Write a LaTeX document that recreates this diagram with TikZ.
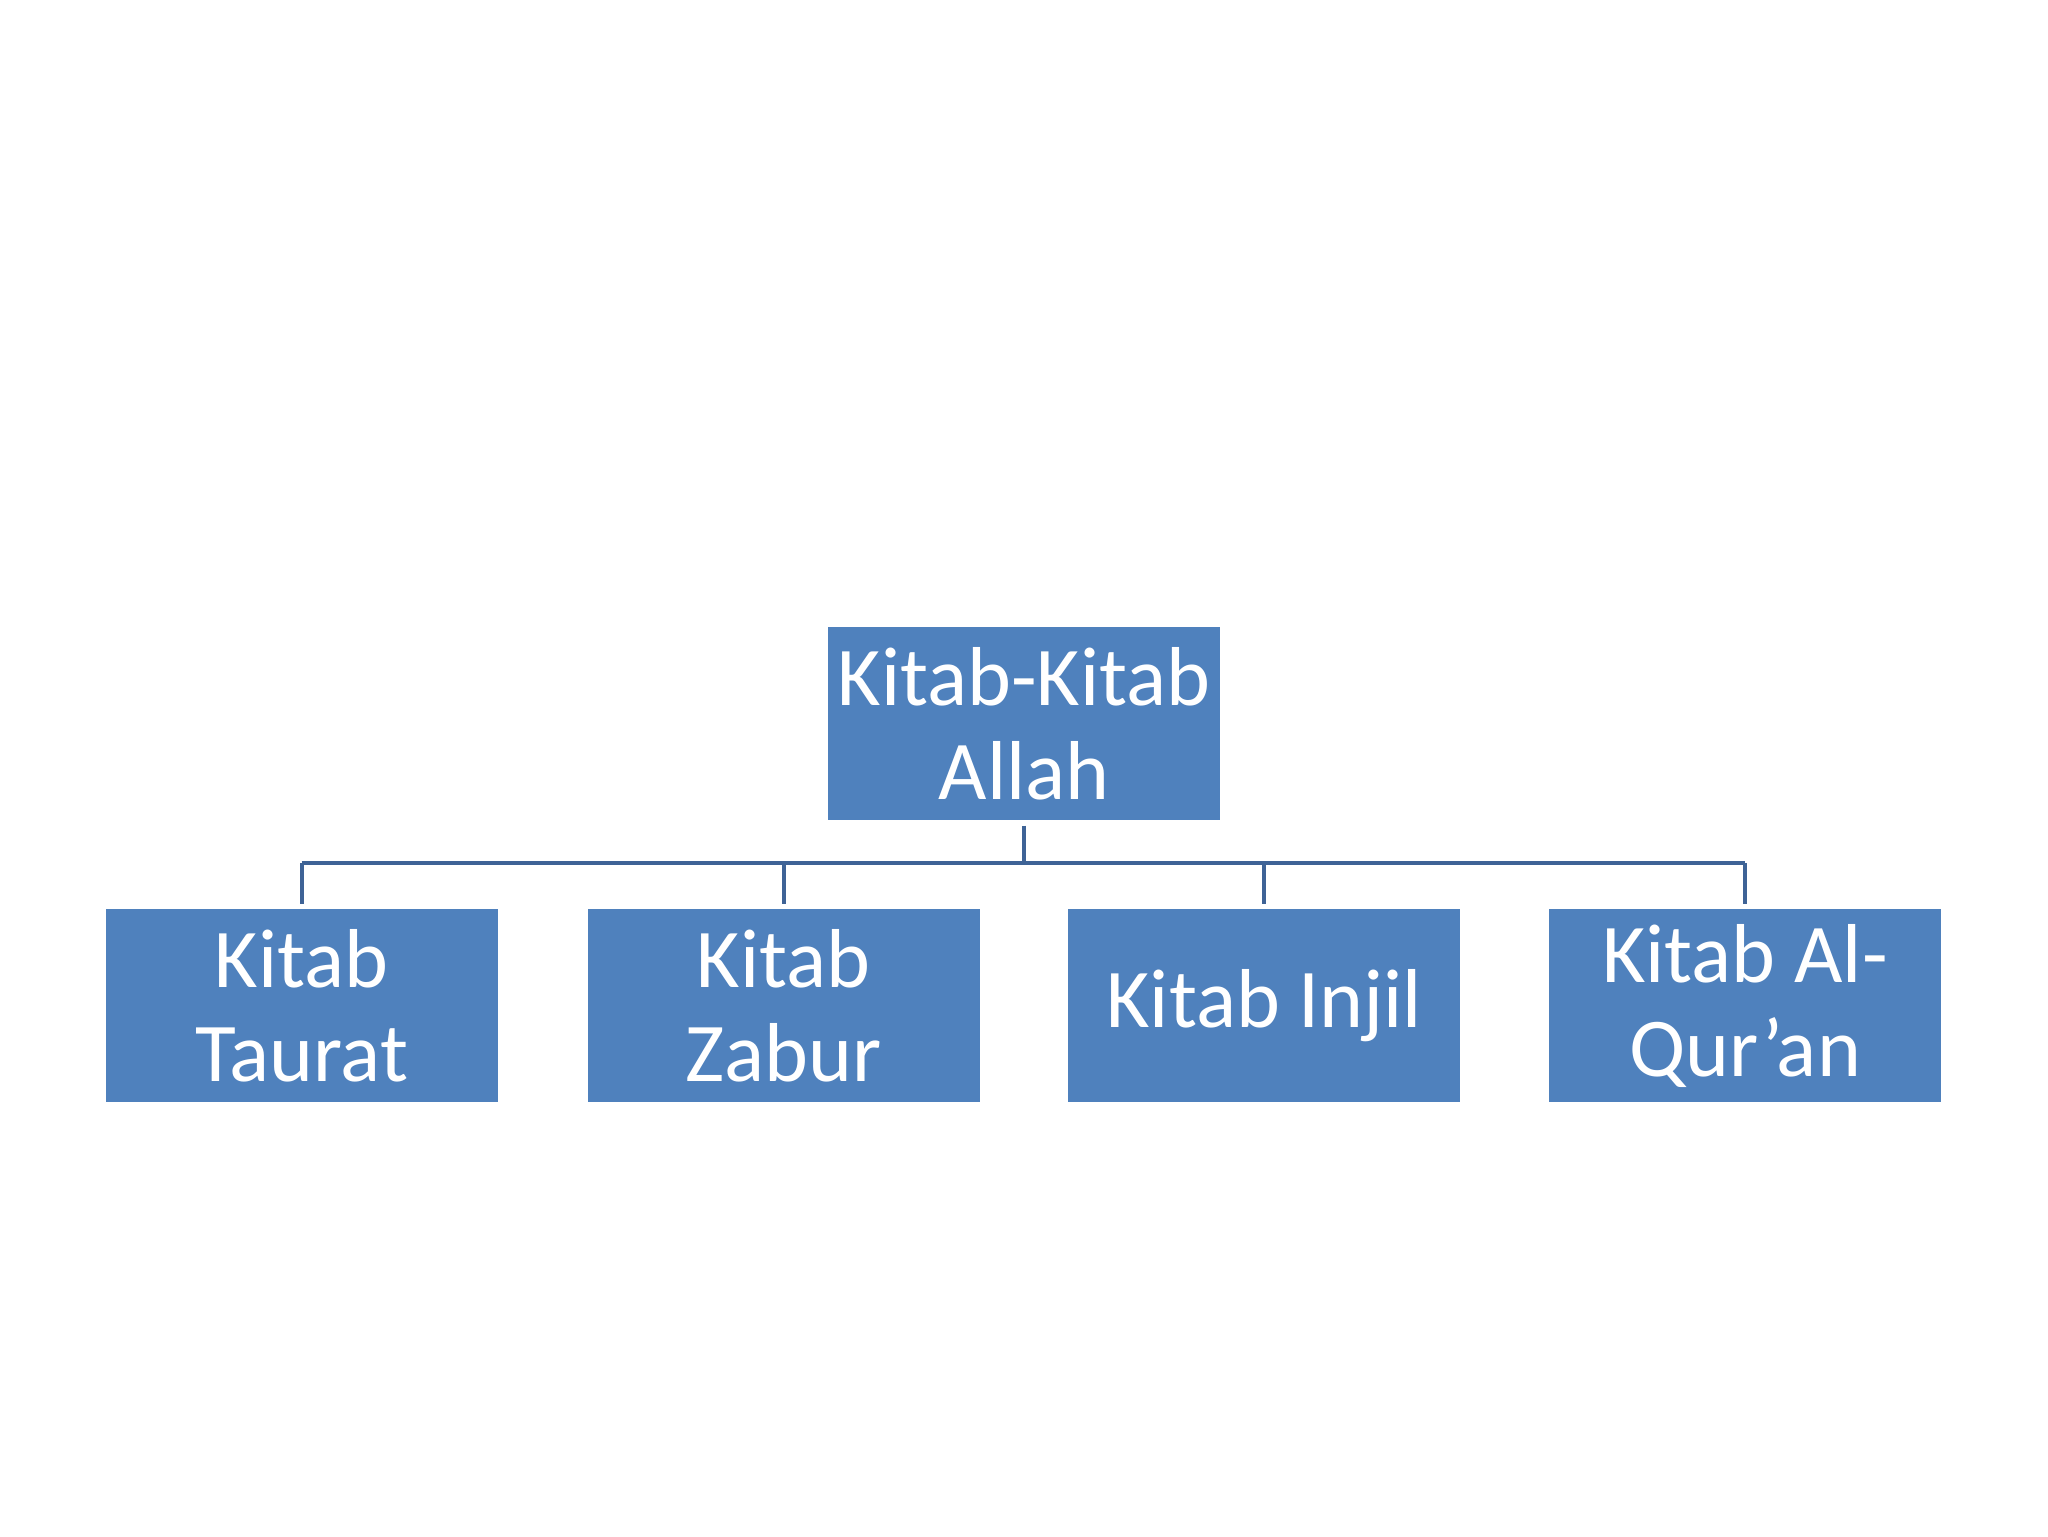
\documentclass[tikz,border=0pt]{standalone}
\usepackage{fontspec}
\setmainfont{Carlito}
\begin{document}
\begin{tikzpicture}[line join=bevel,
  kitab/.style={draw=none,fill=boxblue,text=white,minimum width=300bp,minimum height=148bp,
    inner sep=2bp,align=center,font=\fontsize{64bp}{72bp}\selectfont},
  conn/.style={draw=lineblue,line width=3bp}]
\definecolor{boxblue}{HTML}{4F81BD}
\definecolor{lineblue}{HTML}{3E6396}
\useasboundingbox (0bp,0bp) rectangle (1568bp,1176bp);
%%
\node (allah) at (784bp,622bp) [kitab] {Kitab-Kitab\\Allah};
  \node (taurat) at (231bp,406bp) [kitab] {Kitab\\Taurat};
  \node (zabur) at (600bp,406bp) [kitab] {Kitab\\Zabur};
  \node (injil) at (968bp,406bp) [kitab] {Kitab Injil};
  \node (quran) at (1336bp,406bp) [kitab] {Kitab Al-\\Qur’an};
  \coordinate (bus) at (784bp,515bp);
  \draw [conn] ([yshift=-4bp]allah.south) -- (bus);
  \draw [conn] (bus -| taurat.north) -- (bus -| quran.north);
  \foreach \k in {taurat,zabur,injil,quran}
    \draw [conn] (bus -| \k.north) -- ([yshift=4bp]\k.north);
%
\end{tikzpicture}
\end{document}
